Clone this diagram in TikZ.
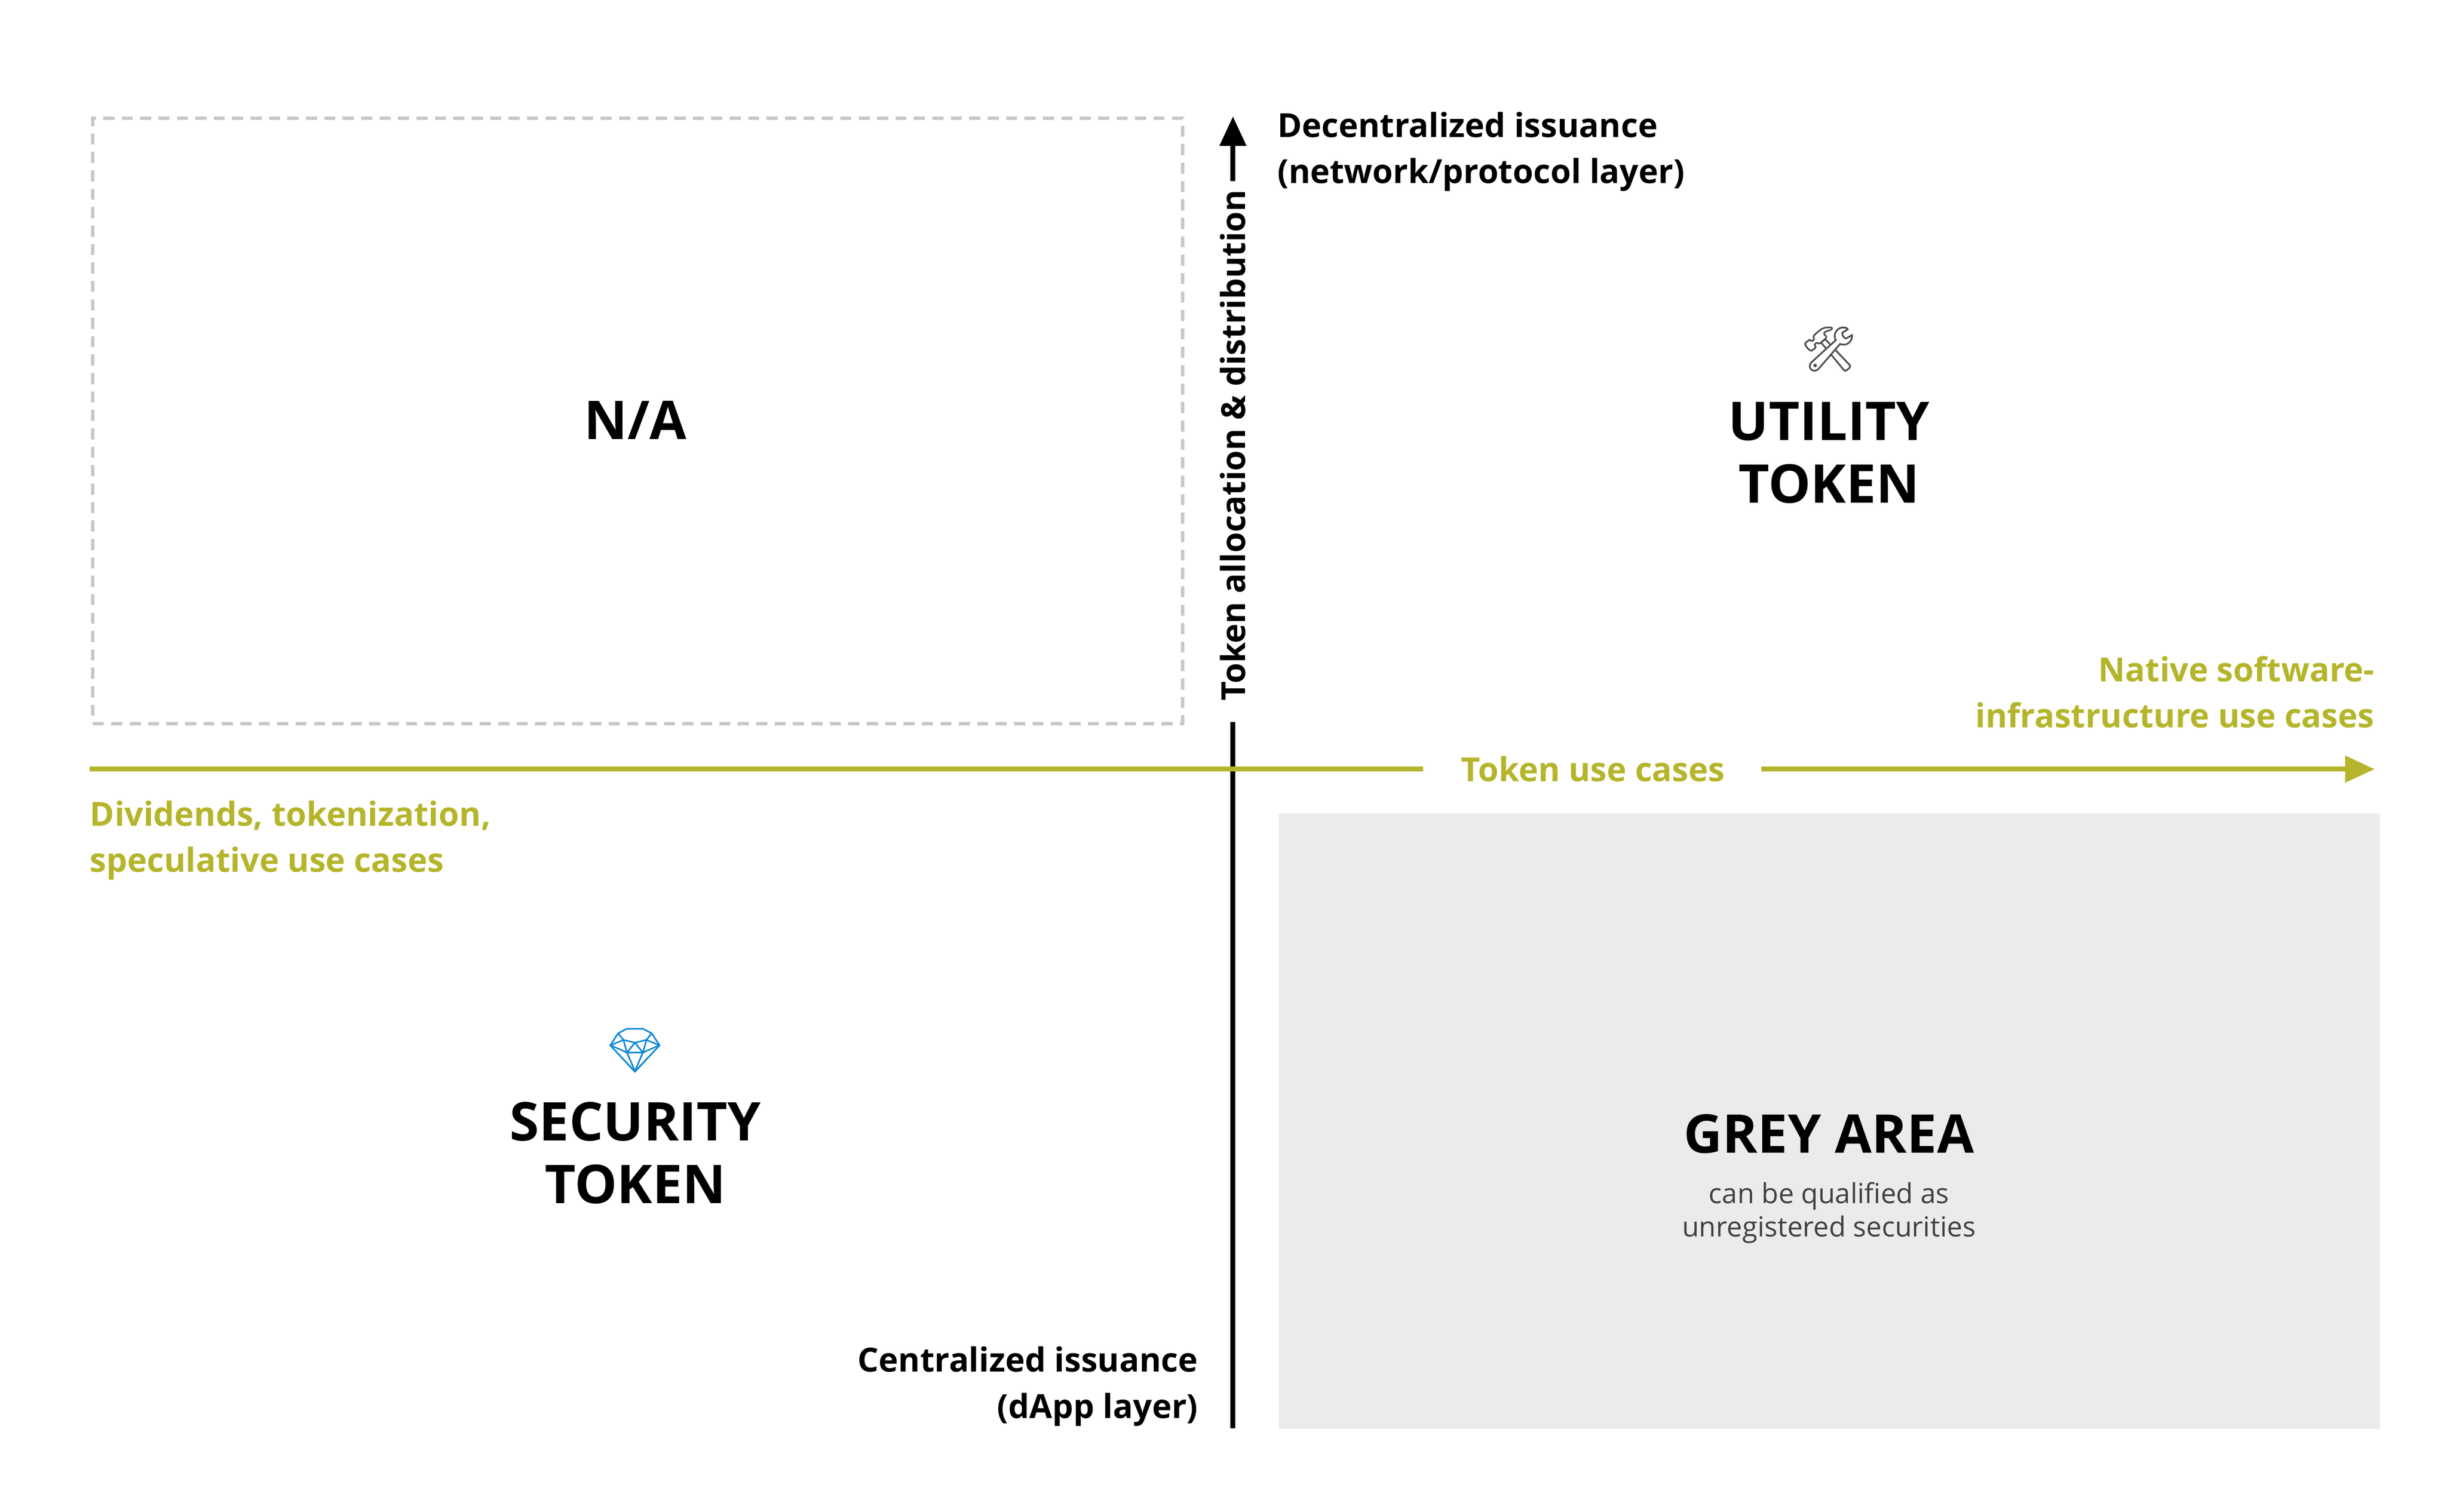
\documentclass[tikz,border=0pt]{standalone}
\usepackage{fontspec}
\setmainfont{Open Sans}
\newfontfamily\emo{Noto Emoji}
\usetikzlibrary{arrows.meta}
\definecolor{olive}{HTML}{B5B52C}
\definecolor{greyfill}{HTML}{EBEBEB}
\definecolor{dashgrey}{HTML}{C8C8C8}
\tikzset{
 lbl/.style={font=\fontsize{18}{25}\selectfont\bfseries, inner sep=0pt},
 title/.style={font=\fontsize{29}{34}\selectfont\bfseries, align=center, inner sep=0pt},
}
\begin{document}
\begin{tikzpicture}[x=0.03cm,y=-0.03cm]
\useasboundingbox (0,0) rectangle (1556,961);
\node[draw=dashgrey, dash pattern=on 6pt off 4pt, line width=1.8pt, minimum width=693*0.03cm, minimum height=385*0.03cm, anchor=north west, inner sep=0pt] (na) at (58,74) {};
\node[title] (natxt) at (404,267) {N/A};
\node[fill=greyfill, minimum width=700*0.03cm, minimum height=391*0.03cm, anchor=north west, inner sep=0pt] (grey) at (813,517) {};
% vertical axis
\coordinate (vtop) at (784,74);
\coordinate (vbot) at (784,908);
\node[lbl, rotate=90, anchor=center] (vlab) at (784,283) {Token allocation \& distribution};
\draw[line width=2.6pt, -{Triangle[length=16pt,width=14pt]}] (vlab.west |- 0,115) -- (vtop);
\draw[line width=2.6pt] (784,459) -- (vbot);
% horizontal axis
\node[lbl, text=olive] (hlab) at (1013,489) {Token use cases};
\coordinate (hl) at (57,489);
\coordinate (hr) at (1510,489);
\draw[olive, line width=2.6pt] (hl) -- (905,489);
\draw[olive, line width=2.6pt, -{Triangle[length=16pt,width=14pt]}] (1120,489) -- (hr);
% labels
\node[lbl, align=left, anchor=north west] (dec) at (812,71) {Decentralized issuance\\(network/protocol layer)};
\node[lbl, align=right, anchor=north east, text=olive] (nat) at (1510,417) {Native software-\\infrastructure use cases};
\node[lbl, align=left, anchor=north west, text=olive] (div) at (57,509) {Dividends, tokenization,\\speculative use cases};
\node[lbl, align=right, anchor=north east] (cen) at (762,856) {Centralized issuance\\(dApp layer)};
% quadrant titles
\node[font=\emo\fontsize{24}{24}\selectfont, text=black!70] (ut-e) at (1163,222) {🛠};
\node[title] (ut) at (1163,288) {UTILITY\\TOKEN};
\node[font=\emo\fontsize{24}{24}\selectfont, text=cyan!70!blue] (se-e) at (404,668) {💎};
\node[title] (se) at (404,733) {SECURITY\\TOKEN};
\node[title] (ga) at (1163,721) {GREY AREA};
\node[font=\fontsize{15}{18}\selectfont, text=black!75, align=center] (gas) at (1163,771) {can be qualified as\\unregistered securities};
\end{tikzpicture}
\end{document}
